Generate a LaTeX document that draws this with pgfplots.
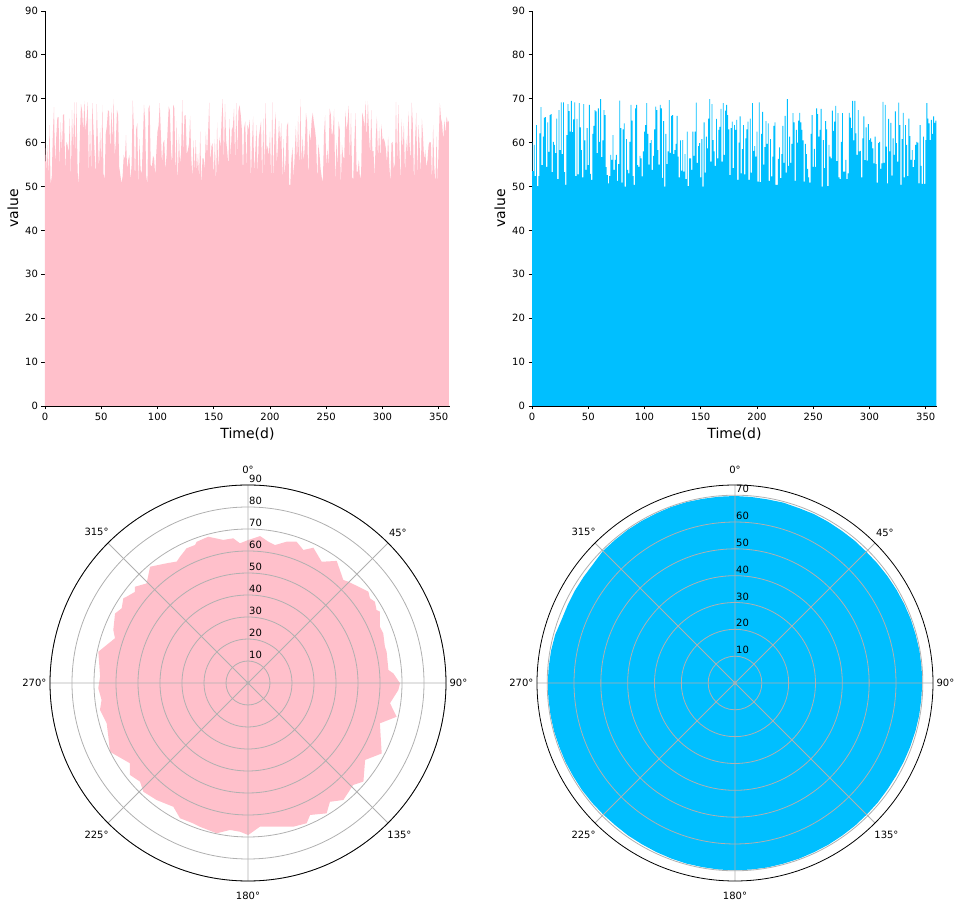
\documentclass[border=0pt]{standalone}
\usepackage{fontspec}
\setmainfont{DejaVu Sans}
\usepackage{pgfplots}
\usepackage{pgfplotstable}
\usepgfplotslibrary{polar}
\pgfplotsset{compat=1.18}
\definecolor{pinkc}{HTML}{FFC0CB}
\definecolor{dsb}{HTML}{00BFFF}
\definecolor{gridc}{HTML}{B0B0B0}

\pgfplotstableread[row sep=\\]{
d v\\
0 60.2\\1 53.5\\2 59.5\\3 52.4\\4 64.0\\5 50.1\\6 52.4\\7 62.1\\8 68.1\\9 54.9\\
10 61.4\\11 65.7\\12 65.8\\13 54.5\\14 64.6\\15 57.9\\16 66.3\\17 66.5\\18 53.3\\19 60.2\\
20 59.5\\21 57.6\\22 65.5\\23 51.7\\24 67.4\\25 58.3\\26 69.2\\27 57.4\\28 69.2\\29 53.3\\
30 50.4\\31 61.7\\32 68.8\\33 67.2\\34 62.5\\35 69.5\\36 62.4\\37 65.3\\38 69.2\\39 52.4\\
40 65.4\\41 52.8\\42 69.0\\43 63.5\\44 58.3\\45 52.1\\46 68.8\\47 60.5\\48 53.8\\49 63.3\\
50 54.9\\51 68.6\\52 52.9\\53 51.5\\54 62.0\\55 63.8\\56 67.4\\57 67.1\\58 57.6\\59 67.8\\
60 60.2\\61 69.9\\62 56.7\\63 60.5\\64 67.4\\65 66.3\\66 54.4\\67 52.6\\68 50.7\\69 52.4\\
70 57.2\\71 56.1\\72 61.7\\73 53.8\\74 56.1\\75 57.2\\76 51.3\\77 55.1\\78 69.6\\79 63.3\\
80 50.9\\81 63.0\\82 64.4\\83 50.0\\84 60.8\\85 53.8\\86 53.0\\87 60.2\\88 68.6\\89 65.0\\
90 52.4\\91 50.4\\92 67.8\\93 68.6\\94 54.9\\95 54.5\\96 57.0\\97 56.4\\98 52.3\\99 58.0\\
100 62.5\\101 64.0\\102 69.0\\103 62.0\\104 55.0\\105 59.9\\106 60.6\\107 53.8\\108 57.0\\109 63.0\\
110 68.2\\111 67.4\\112 58.3\\113 55.0\\114 68.6\\115 67.8\\116 52.0\\117 64.9\\118 50.0\\119 62.0\\
120 55.1\\121 58.0\\122 69.7\\123 57.7\\124 66.1\\125 66.3\\126 57.4\\
127 58.3\\128 59.7\\129 66.1\\130 56.8\\131 52.1\\132 60.5\\133 53.6\\
134 60.6\\135 53.4\\136 57.4\\137 51.7\\138 62.5\\139 50.1\\140 56.4\\
141 56.4\\142 53.8\\143 62.5\\144 57.0\\145 62.5\\146 69.1\\147 55.4\\
148 59.2\\149 59.9\\150 52.1\\151 60.8\\152 50.0\\153 64.6\\154 53.2\\
155 61.4\\156 58.7\\157 65.5\\158 69.9\\159 55.7\\160 68.8\\161 60.6\\
162 58.0\\163 54.7\\164 65.4\\165 56.4\\166 62.9\\167 63.6\\168 67.7\\169 55.7\\
170 69.0\\171 57.2\\172 67.3\\173 68.6\\174 66.3\\175 63.0\\176 52.6\\
177 63.3\\178 64.8\\179 54.2\\180 64.0\\181 62.9\\182 65.2\\183 51.5\\
184 60.0\\185 66.0\\186 53.0\\187 58.5\\188 64.0\\
189 52.8\\190 61.0\\191 63.0\\192 64.8\\193 51.5\\194 65.5\\195 53.2\\
196 69.0\\197 58.1\\198 59.2\\199 56.8\\200 62.5\\201 51.1\\202 69.2\\
203 51.0\\204 62.0\\205 67.0\\206 55.0\\207 59.0\\
208 64.9\\209 59.7\\210 64.4\\211 51.3\\212 60.8\\213 52.3\\214 56.8\\
215 63.8\\216 64.6\\217 50.4\\218 50.4\\219 56.3\\220 58.9\\221 51.9\\
222 57.4\\223 63.8\\224 55.4\\225 66.1\\226 53.2\\227 69.9\\228 54.7\\
229 61.4\\230 55.4\\231 59.7\\232 66.7\\233 64.6\\234 51.3\\235 62.9\\
236 60.0\\237 65.0\\238 66.8\\239 64.6\\
240 62.9\\241 60.5\\242 51.1\\243 59.7\\244 57.4\\245 54.0\\246 52.1\\
247 50.9\\248 62.0\\249 66.3\\250 54.5\\251 58.6\\252 54.5\\253 67.8\\
254 66.5\\255 61.4\\256 62.9\\257 67.7\\258 50.0\\259 60.6\\
260 54.2\\261 64.9\\262 63.0\\263 50.1\\264 59.5\\265 56.8\\
266 56.4\\267 67.3\\268 62.7\\269 64.8\\270 68.4\\271 55.8\\272 66.7\\
273 52.1\\274 51.7\\275 60.2\\276 66.7\\277 53.4\\278 53.4\\279 56.1\\280 51.7\\
281 53.0\\282 66.8\\283 65.7\\284 63.3\\285 69.5\\286 60.5\\287 69.5\\
288 62.1\\289 57.2\\290 67.4\\291 58.0\\292 58.1\\293 52.1\\
294 61.0\\295 66.0\\296 56.0\\297 63.5\\
298 55.9\\299 64.2\\300 60.6\\301 61.0\\302 60.2\\303 58.7\\304 55.3\\
305 61.4\\306 55.1\\307 50.9\\308 59.9\\309 60.2\\310 54.0\\
311 55.3\\312 69.3\\313 55.4\\314 68.6\\315 59.1\\316 50.7\\317 65.4\\
318 58.0\\319 64.5\\320 52.5\\321 61.0\\
322 57.2\\323 67.1\\324 59.9\\325 55.7\\326 69.1\\327 64.0\\328 50.4\\
329 60.8\\330 66.8\\331 52.1\\332 64.0\\333 59.5\\334 52.4\\335 65.5\\
336 61.5\\337 56.1\\338 58.3\\339 54.4\\340 56.1\\341 59.5\\342 60.2\\343 60.0\\
344 50.7\\345 64.0\\346 54.7\\347 50.6\\348 61.4\\349 50.6\\350 60.6\\
351 69.0\\352 65.5\\353 64.4\\354 60.6\\355 65.2\\356 62.0\\357 66.0\\358 64.5\\359 65.0\\
}\daily

\pgfplotstableread[row sep=\\]{
a r\\
0.1 65.0\\4.7 67.0\\8.2 64.9\\11.1 63.9\\15.3 66.6\\19.0 67.9\\22.6 65.5\\25.8 68.3\\31.3 64.5\\36.0 68.6\\
42.8 63.8\\44.7 64.8\\52.8 68.7\\55.2 67.5\\57.4 68.5\\60.4 67.2\\61.6 68.2\\66.9 65.2\\69.8 65.5\\75.1 64.4\\
77.3 64.6\\84.7 64.1\\86.2 66.2\\90.1 69.1\\92.7 68.4\\98.1 65.2\\102.8 69.3\\107.0 62.7\\117.8 68.7\\123.3 63.7\\
130.5 69.0\\134.1 66.6\\140.8 68.6\\145.4 65.6\\148.9 69.2\\154.8 66.3\\157.3 69.1\\162.5 68.5\\170.0 66.3\\175.2 65.5\\
179.9 69.1\\183.1 67.7\\187.0 67.3\\191.8 69.8\\198.5 68.9\\201.3 68.5\\206.7 68.8\\211.1 65.7\\218.0 67.5\\223.9 68.6\\
227.6 66.5\\232.1 68.0\\235.8 64.9\\243.5 70.1\\249.0 68.0\\254.1 66.8\\259.7 68.4\\263.4 67.0\\268.0 68.1\\272.5 67.3\\
281.8 69.5\\288.6 63.8\\291.5 65.8\\297.6 68.2\\300.6 66.7\\304.2 68.5\\305.4 67.7\\308.9 66.0\\310.4 67.5\\314.5 64.6\\
319.9 69.1\\325.8 65.8\\329.6 64.0\\331.7 65.2\\335.5 67.3\\339.0 67.2\\340.0 68.3\\344.8 68.9\\350.2 66.0\\354.2 66.1\\
356.7 63.6\\
}\polarpink

\pgfplotstableread[row sep=\\]{
a r\\
0 69.7\\5 69.6\\10 69.5\\15 69.6\\20 69.4\\25 69.5\\30 69.4\\35 69.3\\40 69.3\\45 69.2\\
50 69.3\\55 69.4\\60 69.5\\65 69.6\\70 69.7\\75 69.7\\80 69.8\\85 69.8\\90 69.8\\95 69.7\\
100 69.7\\105 69.6\\110 69.5\\115 69.4\\120 69.3\\125 69.3\\130 69.4\\135 69.4\\140 69.5\\145 69.5\\
150 69.6\\155 69.6\\160 69.7\\165 69.7\\170 69.8\\175 69.8\\180 69.8\\185 69.8\\190 69.7\\195 69.7\\
200 69.6\\205 69.5\\210 69.4\\215 69.4\\220 69.3\\225 69.4\\230 69.5\\235 69.6\\240 69.6\\245 69.7\\
250 69.7\\255 69.8\\260 69.8\\265 69.8\\270 69.8\\275 69.7\\280 69.6\\285 69.4\\290 68.8\\295 68.8\\
300 68.9\\305 68.9\\310 69.0\\315 69.6\\320 69.6\\325 69.7\\330 69.7\\335 69.7\\340 69.8\\345 69.8\\
350 69.7\\355 69.7\\
}\polarblue

\tikzset{
  rlab/.style={anchor=base west, inner sep=0pt, xshift=1pt, yshift=2.5pt, font=\fontsize{10}{12}\selectfont},
}

\pgfplotsset{
  topstyle/.style={
    scale only axis, width=405pt, height=395pt, anchor=south west,
    xmin=0, xmax=360, ymin=0, ymax=90,
    axis x line*=bottom, axis y line*=left,
    axis line style={-, black, line width=0.8pt},
    xtick={0,50,...,350}, ytick={0,10,...,90},
    tick align=outside, major tick length=3.5pt,
    tick style={black, line width=0.8pt},
    ticklabel style={font=\fontsize{10}{12}\selectfont},
    /pgf/number format/assume math mode=true,
    xlabel={Time(d)}, ylabel={value},
    label style={font=\fontsize{14}{16}\selectfont},
  },
  polstyle/.style={
    scale only axis, width=396pt, height=396pt, anchor=center,
    ymin=0, clip=false,
    xtick={0,45,...,315},
    xticklabels={90°,45°,\raisebox{0pt}[\height][8pt]{0°},315°,270°,225°,\raisebox{0pt}[15pt][\depth]{180°},135°},
    yticklabels={},
    grid=major, major grid style={gridc, line width=0.8pt},
    axis line style={black, line width=0.8pt},
    y axis line style={draw=none},
    major tick length=0pt,
    ticklabel style={font=\fontsize{10}{12}\selectfont},
    axis on top,
  },
}

\begin{document}
\begin{tikzpicture}
\useasboundingbox (0,0) rectangle (962pt,907pt);

\begin{axis}[topstyle, at={(45pt,501pt)}]
\addplot[fill=pinkc, draw=none] table[x=d, y=v]{\daily} \closedcycle;
\end{axis}

\begin{axis}[topstyle, at={(532pt,501pt)}]
\addplot[ybar, bar width=0.8, fill=dsb, draw=none] table[x=d, y=v]{\daily};
\end{axis}

\begin{polaraxis}[polstyle, at={(248pt,224pt)}, ymax=90, ytick={10,20,...,90}]
\addplot[fill=pinkc, draw=none] table[x expr=90-\thisrow{a}, y=r]{\polarpink};
\node[rlab] at (axis cs:90,10) {10};
\node[rlab] at (axis cs:90,20) {20};
\node[rlab] at (axis cs:90,30) {30};
\node[rlab] at (axis cs:90,40) {40};
\node[rlab] at (axis cs:90,50) {50};
\node[rlab] at (axis cs:90,60) {60};
\node[rlab] at (axis cs:90,70) {70};
\node[rlab] at (axis cs:90,80) {80};
\node[rlab] at (axis cs:90,90) {90};
\end{polaraxis}

\begin{polaraxis}[polstyle, at={(735pt,224pt)}, ymax=73.8, ytick={10,20,...,70}]
\addplot[fill=dsb, draw=none] table[x expr=90-\thisrow{a}, y=r]{\polarblue};
\node[rlab] at (axis cs:90,10) {10};
\node[rlab] at (axis cs:90,20) {20};
\node[rlab] at (axis cs:90,30) {30};
\node[rlab] at (axis cs:90,40) {40};
\node[rlab] at (axis cs:90,50) {50};
\node[rlab] at (axis cs:90,60) {60};
\node[rlab] at (axis cs:90,70) {70};
\end{polaraxis}
\end{tikzpicture}
\end{document}
